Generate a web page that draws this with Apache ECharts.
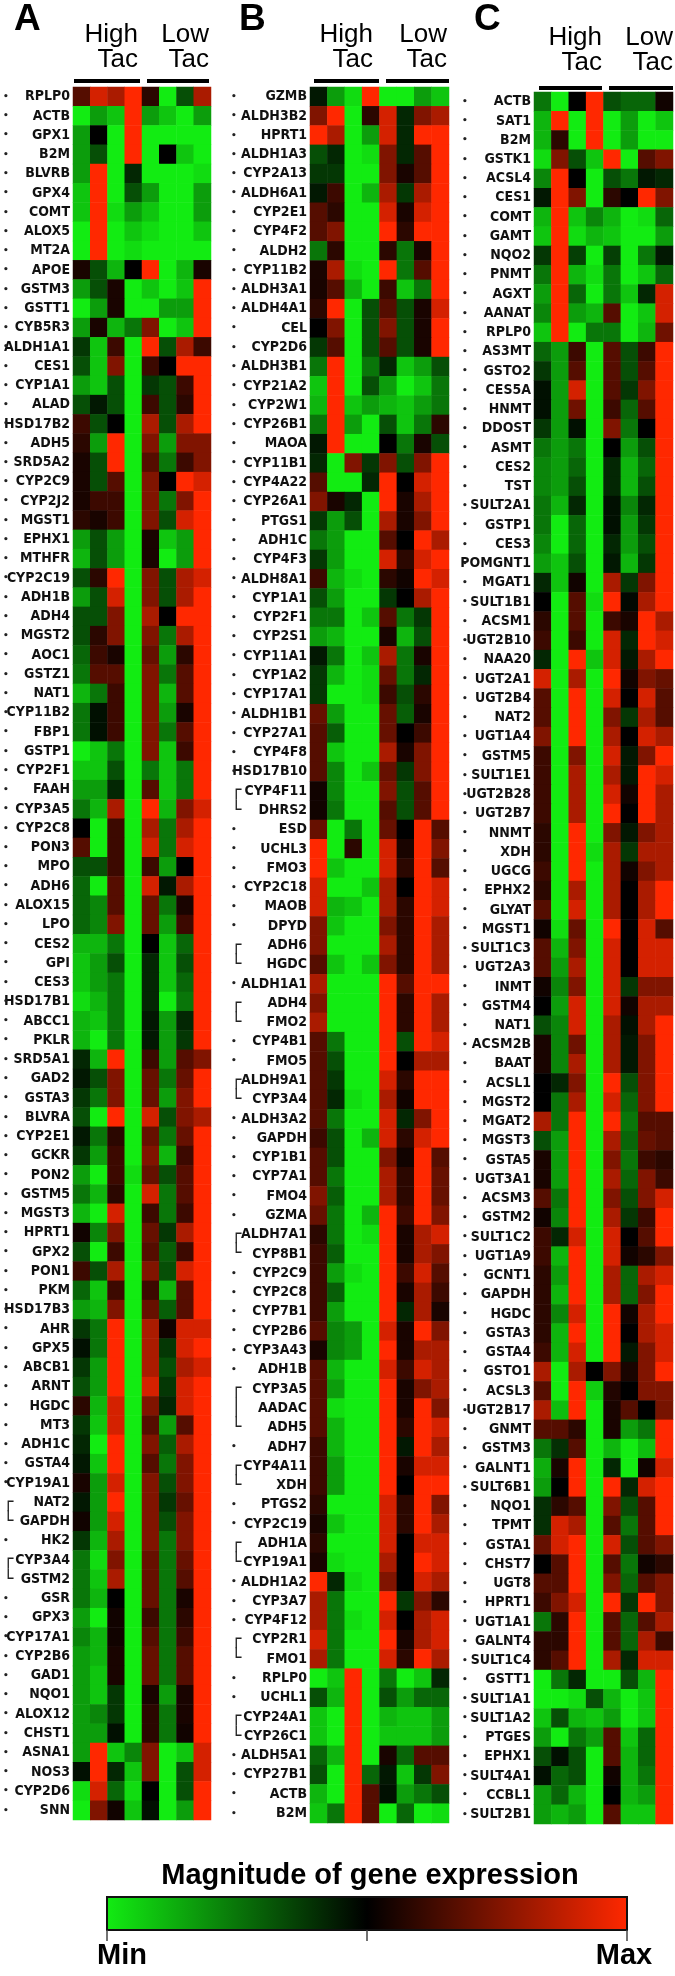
<!DOCTYPE html>
<html>
<head>
<meta charset="utf-8">
<script src="https://cdn.jsdelivr.net/npm/echarts@6/dist/echarts.min.js"></script>
<style>
html,body{margin:0;padding:0;background:#fff;}
#chart{width:675px;height:1976px;}
</style>
</head>
<body>
<div id="chart"></div>
<script>
// ---------- DATA ----------
const columns = ['High 1','High 2','High 3','High 4','Low 1','Low 2','Low 3','Low 4'];
const groupLabels = ['High', 'Tac', 'Low', 'Tac'];
const panelLetters = ['A', 'B', 'C'];
const scaleTitle = 'Magnitude of gene expression';
const scaleEnds = ['Min', 'Max'];
const valueMin = -3, valueMax = 3;

const genesA = ['RPLP0','ACTB','GPX1','B2M','BLVRB','GPX4','COMT','ALOX5','MT2A','APOE','GSTM3','GSTT1','CYB5R3','ALDH1A1','CES1','CYP1A1','ALAD','HSD17B2','ADH5','SRD5A2','CYP2C9','CYP2J2','MGST1','EPHX1','MTHFR','CYP2C19','ADH1B','ADH4','MGST2','AOC1','GSTZ1','NAT1','CYP11B2','FBP1','GSTP1','CYP2F1','FAAH','CYP3A5','CYP2C8','PON3','MPO','ADH6','ALOX15','LPO','CES2','GPI','CES3','HSD17B1','ABCC1','PKLR','SRD5A1','GAD2','GSTA3','BLVRA','CYP2E1','GCKR','PON2','GSTM5','MGST3','HPRT1','GPX2','PON1','PKM','HSD17B3','AHR','GPX5','ABCB1','ARNT','HGDC','MT3','ADH1C','GSTA4','CYP19A1','NAT2','GAPDH','HK2','CYP3A4','GSTM2','GSR','GPX3','CYP17A1','CYP2B6','GAD1','NQO1','ALOX12','CHST1','ASNA1','NOS3','CYP2D6','SNN'];
const valuesA = [
[1,2.5,2,3,0.5,-3,-1,2],[-3,-2,-2.5,3,-2,-2.5,-3,-2],[-2,0,-3,3,-3,-3,-3,-3],[-2,-1,-3,3,-3,0,-2.5,-3],
[-2,3,-3,-0.5,-3,-3,-3,-2.8],[-2.5,3,-3,-1,-2,-3,-3,-2],[-2.5,3,-2.8,-2,-2.5,-3,-3,-2],[-3,3,-3,-2.5,-2.8,-3,-3,-2.5],
[-3,3,-3,-2.8,-3,-3,-3,-3],[0.3,-1,-2.3,0,3,-3,-2.3,0.3],[-2,-1,0.3,-3,-2.5,-3,-2.5,3],[-3,-2,0.3,-3,-3,-2,-2,3],
[-2,0.3,-2.3,-1.5,1.5,-3,-2.5,3],[-0.7,-2.5,0.7,-3,3,-1,2,0.7],[-1,-2.5,1.5,-3,0.7,0,3,3],[-2,-2.5,-1,-3,-0.7,-1,0.7,3],
[-1,-0.3,-1,-3,0.7,-1,0.5,3],[0.7,-1,0,-3,2,-1,2,3],[0.5,-2,3,-3,1.5,-2,1.5,1.5],[0.3,-1,3,-3,1,-1.5,0.7,1.5],
[0.3,-1,1,-3,1.5,0,3,2.5],[0.3,0.7,0.7,-3,1.5,-1.5,1.5,3],[0.5,0.3,0.7,-3,1.5,-1,2.5,3],[-2,-1,-2,-3,0.3,-2.5,-2,3],
[-2.3,-1,-2,-3,0.3,-3,-2,3],[-1,0.5,3,-3,1.5,-1,2,2.5],[-2,-1,2.5,-3,1.5,-1,2,3],[-1,-1,1.5,-3,2,0,3,3],
[-1,0.5,1.5,-3,1.5,-1.5,2,3],[-1.3,0.7,0.3,-3,1.2,-2,0.5,3],[-1.5,1,1,-3,1.5,-1.5,1,3],[-2.3,-1.5,0.7,-3,1.5,-2.3,1,3],
[-1.5,-0.2,0.7,-3,1.5,-2,0.3,3],[-1.5,-0.2,0.7,-3,1.5,-1.5,1,3],[-3,-2.5,-1.5,-3,1.5,-2.5,0.7,3],[-2.5,-2.5,-1,-3,-1.5,-2.5,-1.5,3],
[-2,-2,-0.5,-3,1,-2.5,-1.5,3],[-1.5,-2.3,2,-3,3,-2.3,1.5,2.5],[0,-3,0.7,-3,2,-1.5,2,3],[1,-3,0.7,-3,2.5,-1.5,2.5,3],
[-1,-1,0.7,-3,0.7,-2,0,3],[-1.3,-3,1,-3,2.5,-0.3,2,3],[-1.3,-1.7,1,-3,1.2,-1.5,0.3,3],[-1.3,-1.7,1.5,-3,1.2,-2,0.7,3],
[-2.3,-2.3,-1.5,-3,0,-2.5,-1.3,3],[-2.5,-2,-1,-3,-0.5,-2.5,-1,3],[-2.5,-2,-1.5,-3,-0.5,-2.5,-1.3,3],[-2.8,-2.3,-1.5,-3,-0.5,-3,-1.5,3],
[-2.3,-2.5,-1.5,-3,-0.3,-2,-0.5,3],[-2.3,-3,-1.5,-3,-0.3,-2,-0.7,3],[-0.5,-2.3,3,-3,0.7,-2,1,1.5],[-0.3,-1,1.5,-3,1.2,-1.5,1.2,3],
[-0.7,-1.5,1.5,-3,1.2,-2,1.5,3],[-1,-3,3,-3,2.5,-1,1.5,2],[-0.3,-1.5,0.5,-3,1.2,-1.5,1.2,3],[-0.7,-2,0.7,-3,1.5,-2.3,0.7,3],
[-2,-3,0.7,-2.8,1.2,-1,1,3],[-1.5,-2.3,0.5,-3,2.5,-1.5,1,3],[-2.3,-3,2.5,-3,0.7,-1.5,0.7,3],[0.2,-1.7,1.5,-3,1.2,-0.7,2,3],
[-1,-3,0.7,-3,1,-1.2,0.7,3],[0.7,-1,2,-3,1.5,-1,2.5,3],[-1.3,-2.5,0.7,-3,0.7,-2.3,1,3],[-2,-2.3,1.5,-3,1.2,-1.2,1,3],
[-0.7,-1.5,3,-3,2,0.2,2.5,2.5],[-0.2,-1.5,3,-3,2,-0.7,2.5,3],[-0.7,-2,3,-3,2,-1,2,2.5],[-1,-2,3,-3,2.5,-0.7,2.5,3],
[0.5,-2.3,2.5,-3,1.5,-0.5,2.5,3],[-0.7,-2.5,2.5,-3,1,-2,1,3],[-0.5,-3,3,-3,1.5,-1.2,2,3],[-0.3,-2.5,3,-3,1,-1.5,1.5,3],
[0.3,-2,2.5,-3,1.5,-1,1.5,3],[-0.3,-2,3,-3,1.5,-0.7,1.2,3],[0.2,-2,2.5,-3,1.5,-1,1.5,3],[-0.7,-2.3,2,-3,1.5,-1.5,1.5,3],
[-1.5,-2.8,1.5,-3,1.2,-1.5,1.2,3],[-1.5,-2.5,2,-3,1.2,-1.5,1,3],[-1.5,-2.3,0,-3,1.2,-1.5,0.3,3],[-2,-3,0.2,-3,0.7,-1.5,0.5,3],
[-1.7,-2.3,0.2,-3,1,-1.5,0.7,3],[-2,-2.3,0.3,-3,1.2,-1.5,1,3],[-2,-2.5,0.3,-3,1.2,-1.5,1,3],[-2,-2.5,-0.7,-3,0.3,-2,0.3,3],
[-2,-1.7,-0.7,-3,0.5,-1.5,0.3,3],[-2,-2,-0.2,-3,0.5,-1.5,0.2,3],[-2,3,-2.5,-1.7,1.5,-3,-2.5,2.5],[-0.2,3,-0.5,-2.5,1.5,-3,-1,2.5],
[-2.8,2.5,-1.3,-2.8,0,-3,-1,3],[-3,1.5,0.2,-2.5,-0.2,-3,-2,3]
];
const bracketsA = [['NAT2','GAPDH'],['CYP3A4','GSTM2']];

const genesB = ['GZMB','ALDH3B2','HPRT1','ALDH1A3','CYP2A13','ALDH6A1','CYP2E1','CYP4F2','ALDH2','CYP11B2','ALDH3A1','ALDH4A1','CEL','CYP2D6','ALDH3B1','CYP21A2','CYP2W1','CYP26B1','MAOA','CYP11B1','CYP4A22','CYP26A1','PTGS1','ADH1C','CYP4F3','ALDH8A1','CYP1A1','CYP2F1','CYP2S1','CYP11A1','CYP1A2','CYP17A1','ALDH1B1','CYP27A1','CYP4F8','HSD17B10','CYP4F11','DHRS2','ESD','UCHL3','FMO3','CYP2C18','MAOB','DPYD','ADH6','HGDC','ALDH1A1','ADH4','FMO2','CYP4B1','FMO5','ALDH9A1','CYP3A4','ALDH3A2','GAPDH','CYP1B1','CYP7A1','FMO4','GZMA','ALDH7A1','CYP8B1','CYP2C9','CYP2C8','CYP7B1','CYP2B6','CYP3A43','ADH1B','CYP3A5','AADAC','ADH5','ADH7','CYP4A11','XDH','PTGS2','CYP2C19','ADH1A','CYP19A1','ALDH1A2','CYP3A7','CYP4F12','CYP2R1','FMO1','RPLP0','UCHL1','CYP24A1','CYP26C1','ALDH5A1','CYP27B1','ACTB','B2M'];
const valuesB = [
[-0.3,-2,-2.8,3,-3,-3,-2,-2.5],[1.5,3,-3,0.5,2.5,-0.5,1.5,2],[3,2,-3,-2,2.5,-0.5,3,3],[-1,-0.5,-3,-2.8,1.5,-0.5,1,3],
[-0.7,-0.7,-3,-3,1.5,0.3,1,3],[-0.3,0.7,-3,-2.3,2,-0.7,2,3],[1,0.5,-3,-3,2.5,0.3,2.5,3],[1,1.5,-3,-3,3,0.5,3,3],
[-1.5,0.5,-3,-3,0.5,-1.5,0.3,3],[0.3,2,-2.8,-3,3,-1.5,1,3],[0.3,1,-2.3,-3,0.7,-2.5,-1.5,3],[0.5,3,-3,-1,1,-1,0.3,2.5],
[0,1.5,-3,-1,1.5,-1,0.3,3],[-0.7,1,-3,-1,1,-1,0.3,3],[-1.5,3,-3,-1.5,-0.5,-2.5,-2,-1],[-2.5,3,-3,-1,-2,-3,-2.5,-1.5],
[-2.3,3,-2.5,-2,-2.3,-2.5,-2,-1.5],[-1.5,3,-2,-3,-1,-2.5,-1.5,0.5],[-0.3,3,-3,-3,0,-1.5,0.3,-1],[-0.5,-3,1.5,-0.7,1.5,-1,1.5,3],
[1,-3,-3,-0.5,3,0,2.5,3],[1.5,0.3,-0.5,-3,3,0.3,2,3],[-0.7,-2,-1,-3,2,0.3,1.5,3],[-1.5,-2,-3,-3,1,0,3,2],
[-0.7,-2,-3,-3,2.5,0.5,2.5,3],[0.7,-2.3,-2.8,-3,0.5,0.2,3,2.5],[-1,-2,-3,-3,-0.7,0,2,3],[-1.5,-1.5,-3,-2.5,1,-1.5,-0.7,3],
[-2,-2.3,-3,-3,0.3,-2.3,-1,3],[-0.3,-1.5,-3,-2.5,2,-1.5,0.3,3],[-0.7,-2.3,-3,-2.8,1.2,-1.5,-0.5,3],[-0.7,-3,-3,-2.8,0.7,-1,0.5,3],
[1.2,-2,-3,-3,1.2,-1.2,0.3,3],[1,-1.2,-3,-3,1.2,0,0.7,3],[1,-2.5,-3,-3,2,0.3,1.5,3],[1,-1.7,-3,-2.5,1.2,-0.7,1.5,3],
[0.2,-1.7,-3,-3,1.5,-1,1,3],[0.2,-1.5,-3,-3,1,-1,1,3],[1.2,-3,-1.5,-3,1.2,0,3,1],[3,-3,0.5,-3,2.5,0.3,3,1.5],
[3,-2.5,-3,-3,2.5,0.5,3,1],[2.5,-3,-3,-2.5,2,0,3,2.5],[2.5,-2.3,-2.5,-3,2,0.5,3,2.5],[1.5,-2.5,-3,-3,1.5,0.5,3,2],
[1.5,-3,-3,-3,2,0.5,3,2],[1,-2.5,-3,-2.5,1.5,0.5,3,2],[2,-3,-3,-3,3,1,3,3],[1.5,-3,-3,-3,3,0.5,3,2],
[2,-3,-3,-3,3,0.5,3,2],[1,-1.5,-3,-3,3,-1,3,2.5],[1,-1,-3,-3,3,0,2,2],[1,-0.7,-3,-3,2.5,0.5,3,3],
[1,-0.5,-2.8,-3,2,0.2,3,3],[1,-1.5,-3,-3,2.5,-0.5,1.5,3],[0.7,-1,-3,-2.3,2.5,0.5,2.5,3],[1,-1,-3,-3,1.5,0.2,3,1],
[1,-1.5,-3,-3,2,0.5,3,1.2],[1.5,-1.2,-3,-3,2,0.5,3,1.2],[1.2,-1.5,-3,-2.3,3,0.7,3,1.5],[0.5,-1.5,-3,-2.8,3,0.3,2,2.5],
[0.7,-1.2,-3,-3,3,0.3,2,1.5],[0.7,-2,-2.8,-3,3,0.7,2.5,1],[0.7,-1.2,-3,-3,3,0.3,2,0.7],[0.7,-2,-3,-3,3,-0.5,2,0.3],
[1,-1.7,-2,-3,2.5,0.3,3,1.5],[0.3,-1.7,-2,-3,3,0.3,2,2],[1,-2.3,-3,-3,2.5,0.7,2.5,2],[1,-2,-3,-3,3,0.3,1.5,2],
[1,-2.8,-3,-3,3,0.3,3,1.5],[1,-2.3,-3,-3,3,0.5,3,2.5],[0.7,-2.3,-3,-3,3,-0.3,3,2],[0.7,-2,-3,-3,3,0.3,2.5,2.5],
[0.7,-2,-3,-3,3,0,3,3],[0.5,-3,-3,-3,2.5,0.5,3,1.5],[0.3,-2.5,-3,-3,2.5,0.5,3,2],[0.5,-3,-3,-3,2.5,0,2.5,2.5],
[0.3,-2.8,-3,-3,2,0,3,2.5],[3,-0.5,-2.8,-3,1.5,0,2.5,2],[2,-1.5,-3,-3,3,-0.7,1.5,0.5],[2,-1.5,-2.8,-3,2.5,0,2,2.5],
[2.5,-1.5,-3,-3,3,0.3,2,2.5],[2,-1.5,-3,-3,2.5,0.5,3,2],[-3,-2.5,3,-3,-1.5,-3,-2.5,-0.5],[-1,-2.3,3,-3,-1,-2,-1.3,-1.3],
[-2.5,-3,3,-3,-2.3,-2.5,-2.5,-2],[-2.5,-3,3,-3,-2.5,-2.5,-2.5,-2],[-1.3,-2.3,3,-3,0.3,-1.3,1,1],[-1,-3,3,-1.3,-0.3,-2.5,-0.7,1.5],
[-2.3,-3,3,1,-0.2,-2,-1.5,-1],[-2.5,-1.5,3,1,-3,-1.3,-3,-2.8]
];
const bracketsB = [['CYP4F11','DHRS2'],['ADH6','HGDC'],['ADH4','FMO2'],['ALDH9A1','CYP3A4'],['ALDH7A1','CYP8B1'],['CYP3A5','AADAC','ADH5'],['CYP4A11','XDH'],['ADH1A','CYP19A1'],['CYP2R1','FMO1'],['CYP24A1','CYP26C1']];

const genesC = ['ACTB','SAT1','B2M','GSTK1','ACSL4','CES1','COMT','GAMT','NQO2','PNMT','AGXT','AANAT','RPLP0','AS3MT','GSTO2','CES5A','HNMT','DDOST','ASMT','CES2','TST','SULT2A1','GSTP1','CES3','POMGNT1','MGAT1','SULT1B1','ACSM1','UGT2B10','NAA20','UGT2A1','UGT2B4','NAT2','UGT1A4','GSTM5','SULT1E1','UGT2B28','UGT2B7','NNMT','XDH','UGCG','EPHX2','GLYAT','MGST1','SULT1C3','UGT2A3','INMT','GSTM4','NAT1','ACSM2B','BAAT','ACSL1','MGST2','MGAT2','MGST3','GSTA5','UGT3A1','ACSM3','GSTM2','SULT1C2','UGT1A9','GCNT1','GAPDH','HGDC','GSTA3','GSTA4','GSTO1','ACSL3','UGT2B17','GNMT','GSTM3','GALNT1','SULT6B1','NQO1','TPMT','GSTA1','CHST7','UGT8','HPRT1','UGT1A1','GALNT4','SULT1C4','GSTT1','SULT1A1','SULT1A2','PTGES','EPHX1','SULT4A1','CCBL1','SULT2B1'];
const valuesC = [
[-1.5,-3,0,3,-1,-1.3,-1.3,0.2],[-2.3,3,-3,3,-3,-2,-3,-2.5],[-2.3,0.5,-3,3,-3,-2,-3,-3],[-2.8,1.5,-1,-2.5,3,-3,1,1.5],
[-1.7,3,0,-3,-1,-1.5,-0.3,-0.5],[-0.3,3,1.5,-3,0.5,0,3,1.5],[-2.3,3,-2.5,-1.7,-2.3,-3,-2.8,-1.3],[-2.5,3,-2.8,-2.3,-2.5,-3,-3,-2],
[-0.7,3,-0.8,-3,-0.8,-3,-1.5,-0.3],[-1.5,3,-2.3,-2.8,-1.5,-3,-2.5,-1.3],[-2,3,-1.3,-3,-1.5,-2.5,-0.5,2.5],[-1.7,3,-2,-2.3,1,-3,-2.5,2.5],
[-2.5,3,-3,-1.5,-1.5,-3,-2.3,1.3],[-1.3,-2,0.7,-3,1,-1,0.7,3],[-0.7,-2,1,-3,1,-1,1,3],[-0.2,-2,2.5,-3,1,-0.7,1.5,3],
[-0.2,-2,1.3,-3,0.7,-1.3,1,3],[-0.7,-2,-0.2,-3,1.5,-1.5,0,3],[-1.5,-2,-1.5,-3,0,-2,-1,3],[-1.7,-2,-1.3,-3,-0.5,-2.3,-1.3,3],
[-1.7,-2,-1,-3,-0.5,-2.3,-1,3],[-1.5,-2.3,-0.5,-3,-0.2,-1.7,-0.5,3],[-1.5,-3,-1.3,-3,-0.2,-2,-0.7,3],[-1.7,-3,-1.3,-3,-0.5,-2,-1,3],
[-2,-2.5,-1,-3,-0.3,-2.3,-0.7,3],[-0.5,-2.5,0.2,-3,2,-0.7,1.5,3],[0,-3,1,-2.8,3,-0.1,2,3],[0.5,-3,1,-3,0.7,0.3,3,2],
[0.7,-3,0.7,-3,2.5,-0.5,3,2.5],[-0.5,-3,3,-2.5,2.5,-0.3,2,3],[2.5,-3,2,-3,3,0.2,1.5,1.2],[1,-3,3,-3,2.5,0,2.5,1],
[1,-3,3,-3,1.5,-0.7,2,1],[1.5,-3,3,-3,2,0,2.5,2],[0.7,-3,1.5,-3,2.5,-0.3,1.5,3],[0.7,-3,2,-3,2,-0.3,3,2.5],
[0.7,-3,2,-3,2.5,0.2,3,2],[0.7,-3,2,-3,3,0,3,2],[0.5,-3,3,-3,1.5,-0.3,1.5,2],[0.5,-3,3,-2.8,2,-0.7,2,2],
[0.7,-3,3,-3,2,0.2,1.5,2],[0.5,-3,2,-3,2,0,2,3],[1,-3,2.5,-3,2,0,2,3],[0.2,-2.8,1.2,-3,3,0,2.5,1],
[1,-2.3,1.5,-3,2.5,0,2.5,2.5],[1,-2,2,-3,2.5,0,2.5,2.5],[0.2,-1.7,1.5,-3,2.5,-0.7,1.5,1.5],[0,-2,2.5,-3,2.5,0.2,2,2],
[-1,-1.7,2.5,-3,2,-0.2,2,3],[0.3,-1.7,1.3,-3,2,-0.3,1.5,3],[0.3,-1.7,2,-3,2,-0.3,1.5,3],[0,-0.5,1.5,-3,3,-1,1.5,3],
[0,-1.5,2,-3,2.5,-1.3,1.5,3],[2,-1.5,3,-3,3,-1.5,1,1],[-1,-2,3,-3,2,-1.3,1.2,1],[0.3,-2,3,-3,1.5,-1.5,0.7,0.5],
[0.3,-2,3,-3,2,-1.3,1.5,0.7],[1,-1.5,3,-3,1.5,-1,1.5,2.5],[0.2,-1.7,3,-3,2,-0.7,0.7,3],[0.7,-0.5,2.5,-3,2.5,0,1,3],
[0.7,-2.3,3,-3,2.5,0.2,0.5,1.5],[0.5,-2,3,-3,2,-1.3,2,2.5],[0.5,-2.3,3,-3,2,-1.3,1.5,3],[0.5,-1.7,2.5,-3,3,0.2,2,3],
[0.5,-2.3,3,-3,3,0,2,2.5],[0.7,-2.3,2.5,-3,3,-0.3,1.5,2.5],[2,-3,2,0,1.5,0.3,1.5,3],[1,-3,3,-2.6,0.4,0,1.5,1.5],
[2,-2.4,3,-3,0.3,1,0,1.4],[1,1,0.5,-3,0.3,-2,-1.5,3],[-1.5,-0.6,1,-3,-2.3,-3,-2.4,3],[-2.2,0.3,3,-3,-0.5,-3,0.2,2.5],
[-2,0,3,-3,3,-0.5,2.5,3],[-0.6,0.5,1,-3,1.5,-1,1,3],[-0.6,2.5,2,-3,1,-1.5,1,3],[1.2,2.5,3,-3,2.5,-1,1,1.5],
[0,1,3,-3,1,-1.5,0.2,0.5],[1,1,3,-3,1.5,-1.3,1,1.5],[0.7,1.5,2.5,-3,3,-0.7,3,1.5],[-1.5,0.5,3,-3,1,-1.3,1,2],
[0.5,0.5,3,-3,1,-1.3,2,0.7],[0.5,1,3,-3,2,-0.5,2.5,2.5],[-3,-1.5,-0.5,-3,-3,-1,-2.3,3],[-3,-3,-2.8,-1,-2.3,-3,-2.5,3],
[-2.5,-1,-2.3,-2.5,-2,-3,-2.5,3],[-2,-3,-1.5,-2,1,-2.5,-1.3,3],[-1,-0.2,-1,-3,1,-2.3,-1.3,3],[-0.2,-1.3,-1,-3,0.2,-2.3,-1.5,3],
[-2,-1.3,-2.3,-3,0,-2.3,-2,3],[-2,-2.3,-2,-3,1,-2.5,-2.5,3]
];
const bracketsC = [];

// ---------- STYLE / LAYOUT ----------
const GREEN = '#12ec12', BLACK = '#000000', RED = '#ff2800';
const panels = [
  {genes: genesA, values: valuesA, brackets: bracketsA, left: 73, width: 138, top: 87, height: 1733, markX: 3,
   letterX: 14, headRight: [138, 209], bars: [[74,140],[147,209]], barY: 79, headDy: 0},
  {genes: genesB, values: valuesB, brackets: bracketsB, left: 310, width: 139, top: 87, height: 1736, markX: 231,
   letterX: 239, headRight: [373, 447], bars: [[314,379],[386,449]], barY: 79, headDy: 0},
  {genes: genesC, values: valuesC, brackets: bracketsC, left: 534, width: 139, top: 92, height: 1732, markX: 462,
   letterX: 474, headRight: [602, 673], bars: [[539,602],[609,673]], barY: 86, headDy: 3}
];

function markersFor(p) {
  const m = p.genes.map(() => '{b|•}');
  p.brackets.forEach(group => {
    group.forEach((g, k) => {
      const i = p.genes.indexOf(g);
      if (i < 0) return;
      m[i] = k === 0 ? '{k|┌}' : (k === group.length - 1 ? '{k|└}' : '{k|│}');
    });
  });
  return m;
}

const grids = [], xAxes = [], yAxes = [], series = [], graphics = [];
panels.forEach((p, pi) => {
  grids.push({left: p.left, top: p.top, width: p.width, height: p.height, outerBoundsMode: 'none', containLabel: false});
  xAxes.push({type: 'category', gridIndex: pi, data: columns, show: false});
  const marks = markersFor(p);
  yAxes.push({
    type: 'category', gridIndex: pi, data: p.genes, inverse: true, position: 'left',
    axisLine: {show: false}, axisTick: {show: false}, splitLine: {show: false},
    axisLabel: {interval: 0, margin: 3, color: '#111', fontSize: 14, fontWeight: 'bold',
      fontFamily: '"DejaVu Sans Condensed", "DejaVu Sans", sans-serif', hideOverlap: false}
  });
  yAxes.push({
    type: 'category', gridIndex: pi, data: p.genes, inverse: true, position: 'left', offset: p.left - p.markX,
    axisLine: {show: false}, axisTick: {show: false}, splitLine: {show: false},
    axisLabel: {interval: 0, margin: 0, align: 'left', hideOverlap: false,
      formatter: (v, i) => marks[i],
      rich: {
        b: {fontSize: 9, fontWeight: 'bold', color: '#222', fontFamily: 'DejaVu Sans'},
        k: {fontSize: 17, color: '#222', fontFamily: '"DejaVu Sans Mono", monospace', lineHeight: 19}
      }}
  });
  const data = [];
  p.values.forEach((row, r) => row.forEach((v, c) => data.push([c, r, v])));
  series.push({type: 'heatmap', xAxisIndex: pi, yAxisIndex: pi * 2, data: data,
    itemStyle: {borderWidth: 0}, emphasis: {disabled: true}, progressive: 0});

  // panel letter
  graphics.push({type: 'text', x: p.letterX, y: 20, style: {text: panelLetters[pi],
    font: 'bold 37px "Liberation Sans", Arial, sans-serif', fill: '#000', verticalAlign: 'middle', align: 'left'}});
  // group headers
  [[0, 1, p.headRight[0]], [2, 3, p.headRight[1]]].forEach(([a, b, rx]) => {
    graphics.push({type: 'text', x: rx, y: 35 + p.headDy, style: {text: groupLabels[a],
      font: '26px "Liberation Sans", Arial, sans-serif', fill: '#000', align: 'right', verticalAlign: 'middle'}});
    graphics.push({type: 'text', x: rx, y: 60 + p.headDy, style: {text: groupLabels[b],
      font: '26px "Liberation Sans", Arial, sans-serif', fill: '#000', align: 'right', verticalAlign: 'middle'}});
  });
  p.bars.forEach(([x0, x1]) => {
    graphics.push({type: 'rect', shape: {x: x0, y: p.barY, width: x1 - x0, height: 4}, style: {fill: '#000'}});
  });
});

// colour scale legend
const cb = {x: 107, y: 1897, w: 520, h: 33};
graphics.push({type: 'text', x: 370, y: 1876, style: {text: scaleTitle,
  font: 'bold 29px "Liberation Sans", Arial, sans-serif', fill: '#000', align: 'center', verticalAlign: 'middle'}});
graphics.push({type: 'rect', shape: {x: cb.x, y: cb.y, width: cb.w, height: cb.h},
  style: {fill: new echarts.graphic.LinearGradient(0, 0, 1, 0, [
    {offset: 0, color: GREEN}, {offset: 0.5, color: BLACK}, {offset: 1, color: RED}]),
    stroke: '#111', lineWidth: 2}});
[0, 0.5, 1].forEach(f => {
  const x = cb.x + f * cb.w;
  graphics.push({type: 'line', shape: {x1: x, y1: cb.y + cb.h, x2: x, y2: cb.y + cb.h + 11},
    style: {stroke: '#444', lineWidth: 1.5}});
});
graphics.push({type: 'text', x: 122, y: 1956, style: {text: scaleEnds[0],
  font: 'bold 29px "Liberation Sans", Arial, sans-serif', fill: '#000', align: 'center', verticalAlign: 'middle'}});
graphics.push({type: 'text', x: 624, y: 1956, style: {text: scaleEnds[1],
  font: 'bold 29px "Liberation Sans", Arial, sans-serif', fill: '#000', align: 'center', verticalAlign: 'middle'}});

const chart = echarts.init(document.getElementById('chart'), null, {renderer: 'canvas'});
chart.setOption({
  animation: false,
  backgroundColor: '#fff',
  grid: grids,
  xAxis: xAxes,
  yAxis: yAxes,
  visualMap: {type: 'continuous', show: false, min: valueMin, max: valueMax, seriesIndex: [0, 1, 2],
    inRange: {color: [GREEN, BLACK, RED]}},
  series: series,
  graphic: graphics
});
</script>
</body>
</html>
